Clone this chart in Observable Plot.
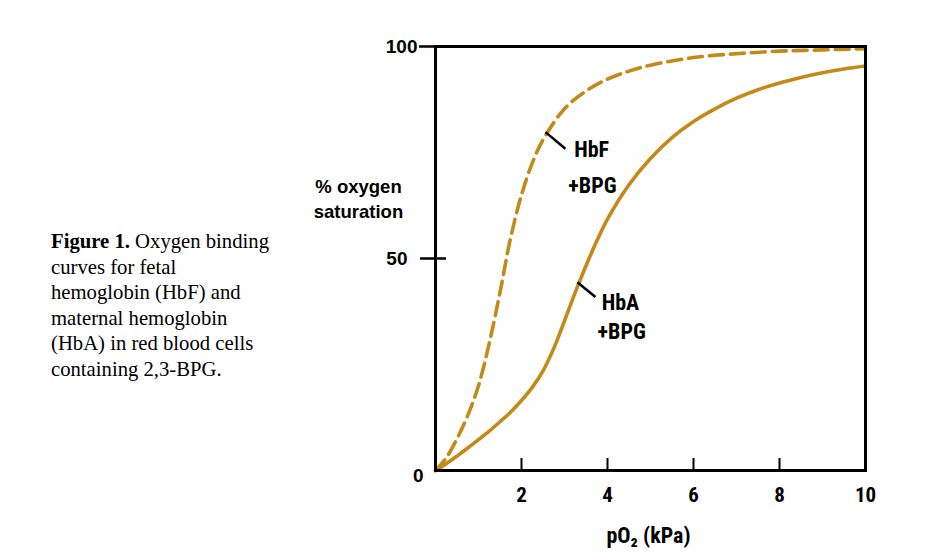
<!DOCTYPE html>
<html>
<head>
<meta charset="utf-8">
<script src="https://cdn.jsdelivr.net/npm/d3@7"></script>
<script src="https://cdn.jsdelivr.net/npm/@observablehq/plot@0.6"></script>
<style>
  html, body { margin: 0; padding: 0; background: #fff; }
  #wrap { position: relative; width: 934px; height: 557px; overflow: hidden; }
  #caption {
    position: absolute; left: 51px; top: 229px; width: 260px;
    font-family: "Liberation Serif", "Times New Roman", serif;
    font-size: 20.7px; line-height: 25.6px; color: #000;
  }
  svg g[font-family*="Condensed"] { font-stretch: condensed; }
</style>
</head>
<body>
<div id="wrap">
  <div id="caption"><b>Figure 1.</b> Oxygen binding<br>curves for fetal<br>hemoglobin (HbF) and<br>maternal hemoglobin<br>(HbA) in red blood cells<br>containing 2,3-BPG.</div>
</div>
<script>
// pO2 (kPa) and % saturation
const hbaPO2 = [0, 0.25, 0.5, 0.75, 1, 1.25, 1.5, 1.75, 2, 2.25, 2.5, 2.75, 3, 3.25, 3.5, 3.75, 4, 4.5, 5, 5.5, 6, 6.5, 7, 7.5, 8, 8.5, 9, 9.5, 10];
const hbaSat = [0, 1.6, 3.4, 5.3, 7.3, 9.3, 11.5, 13.8, 16.5, 19.6, 23.5, 28.8, 35.3, 42, 48.3, 54.1, 59.3, 67.4, 73.6, 78.5, 82.3, 85.3, 87.8, 89.8, 91.4, 92.7, 93.8, 94.7, 95.4];
const hbfPO2 = [0, 0.25, 0.5, 0.75, 1, 1.25, 1.5, 1.75, 2, 2.25, 2.5, 3, 3.5, 4, 4.5, 5, 6, 7, 8, 9, 10];
const hbfSat = [0, 3, 7.5, 13, 20, 30, 42, 55, 65, 72.5, 78, 85.3, 89.5, 92.3, 94.2, 95.6, 97.4, 98.3, 98.9, 99.2, 99.5];

const xTicks = [2, 4, 6, 8, 10];
const yTicks = [0, 50, 100];

// annotations (data coordinates)
const noteLabels = ["HbF", "+BPG", "HbA", "+BPG"];
const noteX = [3.63, 3.65, 4.30, 4.33];
const noteY = [75.5, 67.0, 39.6, 32.6];
const leaderX1 = [2.56, 3.30];
const leaderY1 = [79.8, 44.4];
const leaderX2 = [3.02, 3.72];
const leaderY2 = [75.9, 40.9];

const yLabel = "% oxygen\nsaturation";
const xLabel = "pO\u2082 (kPa)";

const gold = "#c48a18";
const narrow = '"Roboto Condensed", "Liberation Sans Narrow", "DejaVu Sans Condensed", Roboto, sans-serif';
const arial = '"Liberation Sans", Arial, sans-serif';

const hba = hbaPO2.map((x, i) => ({x, y: hbaSat[i]}));
const hbf = hbfPO2.map((x, i) => ({x, y: hbfSat[i]}));
const notes = noteLabels.map((t, i) => ({t, x: noteX[i], y: noteY[i]}));
const leaders = leaderX1.map((x1, i) => ({x1, y1: leaderY1[i], x2: leaderX2[i], y2: leaderY2[i]}));

const chart = Plot.plot({
  width: 934,
  height: 557,
  marginLeft: 435,
  marginRight: 69,
  marginTop: 46,
  marginBottom: 87,
  style: {background: "white", overflow: "visible", color: "black"},
  x: {domain: [0, 10]},
  y: {domain: [0, 100]},
  marks: [
    Plot.line(hbf, {x: "x", y: "y", stroke: gold, strokeWidth: 3.6, strokeDasharray: "14,7", curve: "catmull-rom"}),
    Plot.line(hba, {x: "x", y: "y", stroke: gold, strokeWidth: 3.6, curve: "catmull-rom"}),
    Plot.frame({stroke: "black", strokeWidth: 3}),
    // x ticks drawn inward
    Plot.axisX(xTicks.slice(0, 4), {tickSize: 12, dy: -12, text: null, strokeWidth: 2, label: null}),
    Plot.axisX(xTicks, {tickSize: 0, tickPadding: 17, fontSize: 21, fontWeight: "bold", fontFamily: narrow, label: null}),
    // y ticks
    Plot.axisY([100], {tickSize: 16, strokeWidth: 2.5, text: null, label: null}),
    Plot.axisY([50], {tickSize: 26, dx: 11, strokeWidth: 2.5, text: null, label: null}),
    Plot.axisY([yTicks[2]], {tickSize: 0, tickPadding: 18, fontSize: 19, fontWeight: "bold", fontFamily: arial, label: null}),
    Plot.axisY([yTicks[1]], {tickSize: 0, tickPadding: 28, fontSize: 19, fontWeight: "bold", fontFamily: arial, label: null}),
    Plot.axisY([yTicks[0]], {tickSize: 0, tickPadding: 12, dy: 5, fontSize: 19, fontWeight: "bold", fontFamily: arial, label: null}),
    // axis titles
    Plot.text([yLabel], {frameAnchor: "left", dx: -77, dy: -61, textAnchor: "middle", lineHeight: 1.33, fontSize: 18.5, fontWeight: "bold", fontFamily: arial}),
    Plot.text([xLabel], {frameAnchor: "bottom", dx: -2, dy: 72, textAnchor: "middle", fontSize: 22, fontWeight: "bold", fontFamily: narrow}),
    // annotations
    Plot.link(leaders, {x1: "x1", y1: "y1", x2: "x2", y2: "y2", stroke: "black", strokeWidth: 2.5}),
    Plot.text(notes, {x: "x", y: "y", text: "t", fontSize: 22, fontWeight: "bold", fontFamily: narrow, fill: "black"})
  ]
});
document.getElementById("wrap").prepend(chart);
</script>
</body>
</html>
